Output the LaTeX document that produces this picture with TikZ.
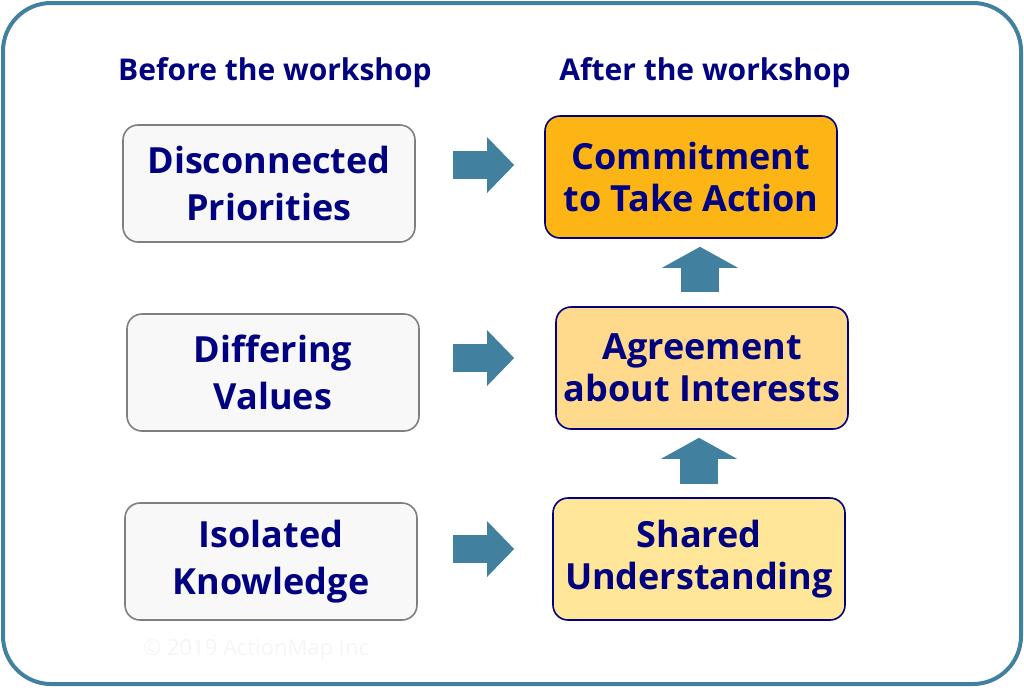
\documentclass[tikz,border=0pt]{standalone}
\usepackage{fontspec}
\setmainfont{Open Sans}
\usetikzlibrary{arrows.meta,positioning,calc}
\definecolor{frame}{HTML}{41809F}
\definecolor{navytext}{HTML}{000080}
\definecolor{paleGray}{HTML}{F8F8F8}
\definecolor{boxEdge}{HTML}{7F7F7F}
\definecolor{goalDark}{HTML}{FDB515}
\definecolor{goalMid}{HTML}{FFD98C}
\definecolor{goalLight}{HTML}{FFE699}
\definecolor{copyGray}{HTML}{F5F5F5}
\begin{document}
\begin{tikzpicture}[x=0.5pt, y=-0.5pt,
      before/.style={rectangle, rounded corners=7.5pt, draw=boxEdge, line width=0.8pt,
                     fill=paleGray, minimum width=146pt, minimum height=58.5pt,
                     font=\fontsize{18}{23.5}\selectfont\bfseries, text=navytext,
                     align=center, inner sep=0pt},
      after/.style={before, draw=navytext, minimum height=61pt,
                    font=\fontsize{18}{21}\selectfont\bfseries},
      hdr/.style={font=\fontsize{15}{18}\selectfont\bfseries, text=navytext},
      rarr/.style={draw=frame, line width=14pt, -{Triangle[width=27pt, length=13.5pt]}},
      uarr/.style={draw=frame, line width=19pt, -{Triangle[width=37.5pt, length=10.5pt]}}
    ]
      \useasboundingbox (0,0) rectangle (1024,687);
      \draw[frame, line width=2pt, rounded corners=24pt] (3,3) rectangle (1021,684);

      % Headers
      \node[hdr] (hb) at (275,73) {Before the workshop};
      \node[hdr] (ha) at (705,73) {After the workshop};

      % Before
      \node[before] (b1) at (269,183.5) {Disconnected\\Priorities};
      \node[before] (b2) at (273,372.5) {Differing\\Values};
      \node[before] (b3) at (271,561.5) {Isolated\\Knowledge};

      % After
      \node[after, fill=goalDark] (c1) at (691,177) {Commitment\\to Take Action};
      \node[after, fill=goalMid] (a2) at (702,368) {Agreement\\about Interests};
      \node[after, fill=goalLight] (s1) at (699,559) {Shared\\Understanding};

      \node[text=copyGray, font=\fontsize{11}{13}\selectfont] (copy) at (256,650) {© 2019 ActionMap Inc};

      % Arrows
      \draw[rarr] ($(b1.east |- c1.west)+(37,-12)$) -- ($(c1.west)+(-30,-12)$);
      \draw[rarr] ($(b2.east |- a2.west)+(33,-10)$) -- ($(a2.west)+(-41,-10)$);
      \draw[rarr] ($(b3.east |- s1.west)+(35,-10)$) -- ($(s1.west)+(-38,-10)$);
      \draw[uarr] ($(a2.north)+(-2,-14)$) -- ($(c1.south -| a2.north)+(-2,8)$);
      \draw[uarr] ($(s1.north)+(0,-13)$) -- ($(a2.south -| s1.north)+(0,8)$);
    \end{tikzpicture}
\end{document}
